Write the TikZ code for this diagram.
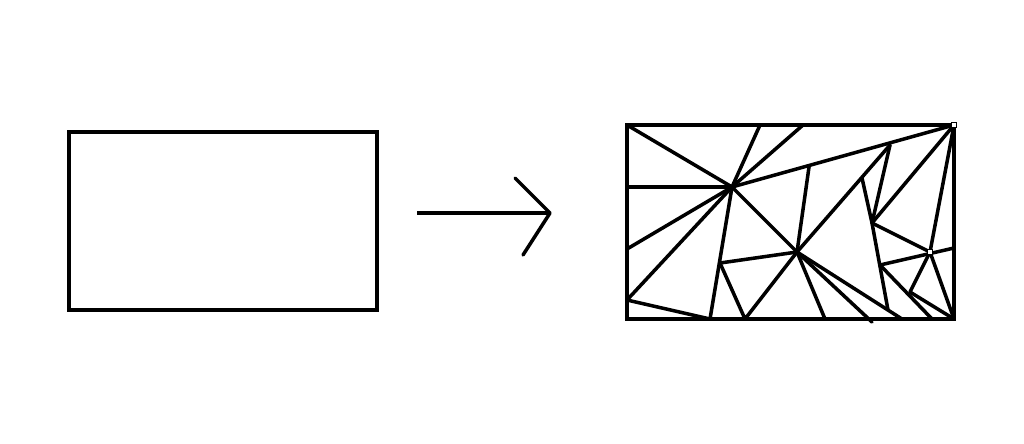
\documentclass[tikz,border=0pt]{standalone}
\usetikzlibrary{calc}
\begin{document}
\begin{tikzpicture}[x=0.025cm,y=-0.025cm,line width=2.5pt,
                    mesh/.style={line cap=round,line join=round},
                    vtx/.style={draw,fill=white,line width=0.4pt,inner sep=0pt,minimum size=3.5pt}]
\useasboundingbox (0,0) rectangle (1024,443);

% plain domain
\coordinate (p1) at (69,132);
\coordinate (p2) at (377,310);
\draw (p1) rectangle (p2);

% arrow
\coordinate (s) at (417,213);
\coordinate (t) at (550,213);
\coordinate (h1) at (515,178);
\coordinate (h2) at (523,255);
\draw (s) -- (t);
\draw[mesh] (h1) -- (t) -- (h2);

% meshed domain: corners
\coordinate (TL) at (627,125);
\coordinate (TR) at (954,125);
\coordinate (BR) at (954,319);
\coordinate (BL) at (627,319);
% boundary points
\coordinate (L1) at (627,187);
\coordinate (L2) at (627,249);
\coordinate (L3) at (627,300);
\coordinate (T1) at (760,125);
\coordinate (T2) at (803,125);
\coordinate (R1) at (954,248);
\coordinate (b1) at (710,319);
\coordinate (b2) at (745,319);
\coordinate (b3) at (825,319);
\coordinate (b4) at (872,322);
\coordinate (b5) at (902,319);
\coordinate (b6) at (932,319);
% inner points
\coordinate (A) at (732,187);
\coordinate (H) at (809,167);
\coordinate (B) at (890,145);
\coordinate (C) at (720,263);
\coordinate (D) at (797,252);
\coordinate (G) at (862,178);
\coordinate (F) at (872,223);
\coordinate (E) at (930,252);
\coordinate (I) at (880,265);
\coordinate (J) at (910,292);
\coordinate (K) at (888,310);

\draw (TL) -- (TR) -- (BR) -- (BL) -- cycle;

\begin{scope}[mesh]
  \draw (TL) -- (A);
  \draw (L1) -- (A);
  \draw (A) -- (T1);
  \draw (A) -- (T2);
  \draw (A) -- (TR);
  \draw (A) -- (L2);
  \draw (A) -- (L3) -- (b1);
  \draw (A) -- (b1);
  \draw (C) -- (D);
  \draw (C) -- (b2) -- (D);
  \draw (A) -- (D);
  \draw (H) -- (D);
  \draw (D) -- (B);
  \draw (G) -- (F);
  \draw (B) -- (F);
  \draw (TR) -- (F);
  \draw (TR) -- (E);
  \draw (F) -- (E);
  \draw (D) -- (b3);
  \draw (D) -- (b4);
  \draw (D) -- (b5);
  \draw (F) -- (K);
  \draw (I) -- (R1);
  \draw (I) -- (b6);
  \draw (E) -- (J) -- (BR);
  \draw (E) -- (BR);
\end{scope}

\node[vtx] at (TR) {};
\node[vtx] at (E) {};
\end{tikzpicture}
\end{document}
